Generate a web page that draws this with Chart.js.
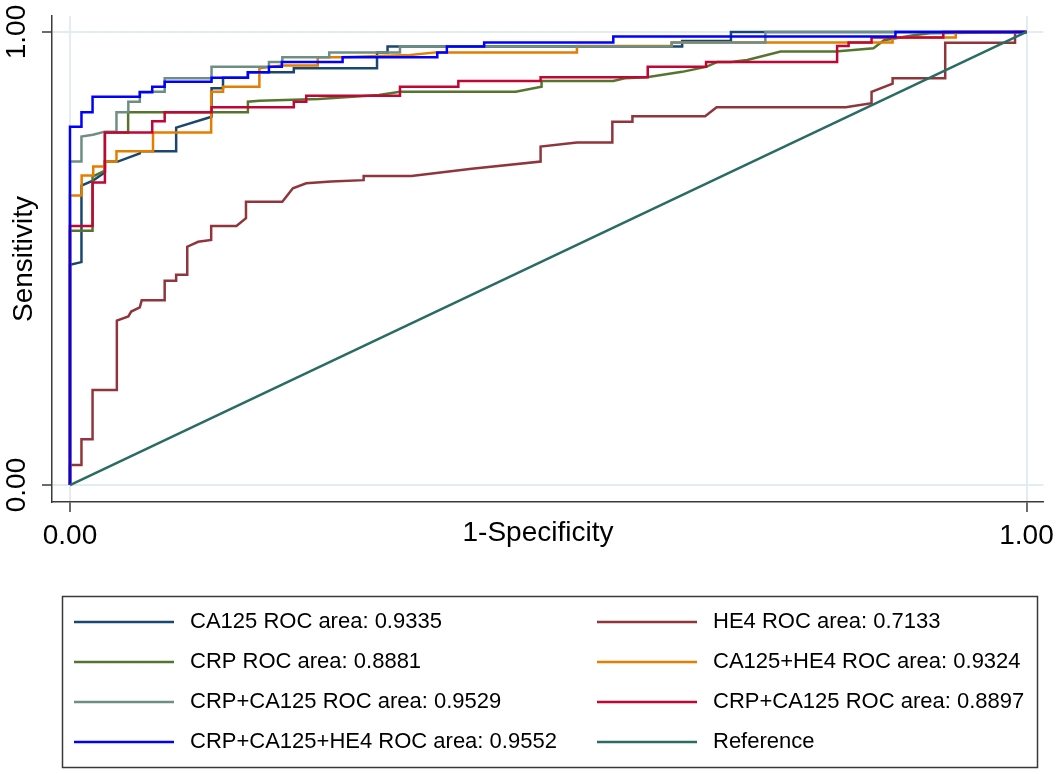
<!DOCTYPE html>
<html>
<head>
<meta charset="utf-8">
<script src="https://cdn.jsdelivr.net/npm/chart.js@4.4.0/dist/chart.umd.min.js"></script>
<style>
  html, body { margin: 0; padding: 0; background: #fff; }
  #wrap { width: 1061px; height: 774px; position: relative; }
</style>
</head>
<body>
<div id="wrap"><canvas id="roc"></canvas></div>
<script>
// ROC points: [1-specificity, sensitivity]
const ca125 = [[0,0],[0,0.486],[0.012,0.492],[0.012,0.661],[0.024,0.672],[0.0365,0.69],[0.0365,0.714],[0.05,0.714],
  [0.073,0.732],[0.073,0.737],[0.111,0.737],[0.111,0.789],[0.148,0.813],[0.148,0.876],[0.16,0.876],[0.16,0.899],
  [0.186,0.899],[0.186,0.911],[0.234,0.911],[0.234,0.92],[0.321,0.92],[0.321,0.955],[0.332,0.955],[0.332,0.968],
  [0.64,0.968],[0.64,0.98],[0.691,0.98],[0.691,1],[1,1]];
const he4 = [[0,0],[0,0.044],[0.012,0.044],[0.012,0.101],[0.0236,0.101],[0.0236,0.21],[0.049,0.21],[0.049,0.363],
  [0.061,0.372],[0.064,0.383],[0.073,0.392],[0.075,0.408],[0.099,0.408],[0.099,0.451],[0.111,0.451],[0.111,0.464],
  [0.1226,0.464],[0.1226,0.526],[0.134,0.537],[0.1476,0.541],[0.1476,0.572],[0.174,0.572],[0.184,0.589],[0.184,0.625],
  [0.222,0.625],[0.233,0.655],[0.247,0.666],[0.273,0.67],[0.307,0.673],[0.307,0.682],[0.357,0.682],[0.42,0.698],
  [0.492,0.714],[0.492,0.747],[0.53,0.756],[0.567,0.756],[0.567,0.802],[0.588,0.802],[0.588,0.814],[0.664,0.814],
  [0.676,0.834],[0.811,0.834],[0.838,0.843],[0.838,0.868],[0.86,0.886],[0.86,0.898],[0.915,0.898],[0.915,0.976],
  [0.988,0.976],[0.988,1],[1,1]];
const crp = [[0,0],[0,0.561],[0.0236,0.561],[0.0236,0.681],[0.0347,0.692],[0.0365,0.692],[0.0365,0.778],[0.0608,0.778],
  [0.0608,0.823],[0.186,0.823],[0.186,0.846],[0.198,0.848],[0.26,0.852],[0.323,0.861],[0.345,0.868],[0.466,0.868],
  [0.493,0.879],[0.493,0.892],[0.568,0.892],[0.58,0.898],[0.603,0.9],[0.64,0.912],[0.665,0.923],[0.677,0.934],
  [0.691,0.934],[0.708,0.938],[0.743,0.957],[0.8,0.957],[0.819,0.96],[0.84,0.964],[0.851,0.982],[0.882,0.993],
  [0.899,0.997],[1,1]];
const ca125he4 = [[0,0],[0,0.639],[0.0122,0.639],[0.0122,0.683],[0.0243,0.683],[0.0243,0.703],[0.0365,0.703],
  [0.0365,0.714],[0.0486,0.714],[0.0486,0.737],[0.0868,0.737],[0.0868,0.778],[0.1476,0.778],[0.1476,0.868],
  [0.16,0.868],[0.16,0.879],[0.198,0.879],[0.198,0.92],[0.222,0.926],[0.259,0.926],[0.259,0.944],[0.283,0.944],
  [0.356,0.949],[0.382,0.955],[0.53,0.955],[0.53,0.969],[0.629,0.969],[0.629,0.977],[0.86,0.977],[0.86,0.988],
  [0.926,0.988],[0.926,1],[1,1]];
const crpCa125a = [[0,0],[0,0.714],[0.012,0.714],[0.012,0.769],[0.024,0.773],[0.0365,0.78],[0.0486,0.78],[0.0486,0.823],
  [0.061,0.823],[0.061,0.846],[0.073,0.846],[0.073,0.868],[0.099,0.868],[0.099,0.898],[0.148,0.898],[0.148,0.923],
  [0.208,0.923],[0.208,0.934],[0.222,0.934],[0.222,0.944],[0.271,0.944],[0.271,0.955],[0.345,0.955],[0.345,0.968],
  [0.629,0.968],[0.629,0.977],[0.727,0.977],[0.727,1],[1,1]];
const crpCa125b = [[0,0],[0,0.572],[0.0236,0.572],[0.0236,0.668],[0.0365,0.668],[0.0365,0.778],[0.086,0.778],
  [0.086,0.803],[0.099,0.803],[0.099,0.823],[0.148,0.823],[0.148,0.834],[0.234,0.834],[0.234,0.846],[0.247,0.846],
  [0.247,0.859],[0.345,0.859],[0.345,0.879],[0.406,0.879],[0.406,0.892],[0.492,0.892],[0.492,0.9],[0.604,0.9],
  [0.604,0.923],[0.665,0.923],[0.665,0.934],[0.802,0.934],[0.802,0.969],[0.814,0.969],[0.814,0.977],[0.838,0.977],
  [0.838,0.988],[0.913,0.988],[0.913,1],[1,1]];
const crpCa125he4 = [[0,0],[0,0.791],[0.012,0.791],[0.012,0.823],[0.0236,0.823],[0.0236,0.857],[0.073,0.857],
  [0.073,0.867],[0.086,0.867],[0.086,0.879],[0.099,0.879],[0.099,0.89],[0.148,0.89],[0.148,0.899],[0.186,0.899],
  [0.186,0.911],[0.208,0.911],[0.208,0.923],[0.2215,0.923],[0.2215,0.934],[0.285,0.934],[0.285,0.944],[0.384,0.944],
  [0.384,0.955],[0.394,0.955],[0.394,0.968],[0.433,0.968],[0.433,0.977],[0.568,0.977],[0.568,0.99],[0.863,0.99],
  [0.863,1],[1,1]];
const reference = [[0,0],[1,1]];

// legend order is row-wise in 2 columns, like the Stata legend
const series = [ca125, he4, crp, ca125he4, crpCa125a, crpCa125b, crpCa125he4, reference];
const labels = ['CA125 ROC area: 0.9335', 'HE4 ROC area: 0.7133', 'CRP ROC area: 0.8881',
  'CA125+HE4 ROC area: 0.9324', 'CRP+CA125 ROC area: 0.9529', 'CRP+CA125 ROC area: 0.8897',
  'CRP+CA125+HE4 ROC area: 0.9552', 'Reference'];
const colors = ['#1a476f', '#90353b', '#55752f', '#e37e00', '#6e8e84', '#c10534', '#0000ff', '#2a6b62'];
const tickValues = [0, 1];
const xTitle = '1-Specificity';
const yTitle = 'Sensitivity';

const FONT = '"Liberation Sans", Arial, sans-serif';
const gridColor = '#e3ecf0';
const axisColor = '#3a3a3a';

// Stata-style 2-column boxed legend under the plot, plus the x title
// (Stata puts it a little left of the plot centre)
const legendBox = {
  id: 'legendBox',
  afterDraw(chart) {
    const ctx = chart.ctx;
    ctx.save();
    ctx.fillStyle = '#000';
    ctx.textAlign = 'center';
    ctx.textBaseline = 'middle';
    ctx.font = '28px ' + FONT;
    ctx.fillText(xTitle, 538, 533);

    ctx.textAlign = 'left';
    ctx.strokeStyle = axisColor;
    ctx.lineWidth = 1.5;
    ctx.strokeRect(62.5, 596.5, 975, 171);
    ctx.font = '22px ' + FONT;
    chart.data.datasets.forEach((ds, i) => {
      const x = i % 2 ? 597 : 74;
      const y = 622 + Math.floor(i / 2) * 40;
      ctx.strokeStyle = ds.borderColor;
      ctx.lineWidth = 2.5;
      ctx.beginPath();
      ctx.moveTo(x, y);
      ctx.lineTo(x + 100, y);
      ctx.stroke();
      ctx.fillStyle = '#000';
      ctx.fillText(ds.label, x + 116, y);
    });
    ctx.restore();
  }
};

const setTicks = scale => { scale.ticks = tickValues.map(v => ({ value: v })); };

new Chart(document.getElementById('roc'), {
  type: 'line',
  data: {
    datasets: series.map((pts, i) => ({
      label: labels[i],
      data: pts.map(p => ({ x: p[0], y: p[1] })),
      borderColor: colors[i],
      backgroundColor: colors[i],
      borderWidth: 2.5,
      pointRadius: 0,
      fill: false,
      tension: 0,
      order: series.length - i   // later curves on top, as in Stata
    }))
  },
  options: {
    responsive: true,
    maintainAspectRatio: false,
    animation: false,
    layout: { padding: { top: 16, right: 14, bottom: 192, left: 0 } },
    plugins: { legend: { display: false }, tooltip: { enabled: false } },
    scales: {
      x: {
        type: 'linear',
        min: -0.0188,
        max: 1.0177,
        afterBuildTicks: setTicks,
        afterFit: s => { s.height = 80; },
        grid: { color: gridColor, lineWidth: 2, tickColor: axisColor, tickWidth: 1.5, tickLength: 10 },
        border: { display: true, color: axisColor, width: 1.5 },
        ticks: { color: '#000', font: { family: FONT, size: 28 }, padding: 7, maxRotation: 0, autoSkip: false,
                 callback: v => v.toFixed(2) },
        title: { display: false }
      },
      y: {
        type: 'linear',
        min: -0.0375,
        max: 1.0353,
        afterBuildTicks: setTicks,
        afterFit: s => { s.width = 52; },
        grid: { color: gridColor, lineWidth: 2, tickColor: axisColor, tickWidth: 1.5, tickLength: 10 },
        border: { display: true, color: axisColor, width: 1.5 },
        ticks: { color: '#000', font: { family: FONT, size: 28 }, padding: -3, minRotation: 90, maxRotation: 90,
                 crossAlign: 'center', autoSkip: false, callback: v => v.toFixed(2) },
        title: { display: true, text: yTitle, color: '#000', font: { family: FONT, size: 28 },
                 padding: { top: 7, bottom: 0 } }
      }
    }
  },
  plugins: [legendBox]
});
</script>
</body>
</html>
